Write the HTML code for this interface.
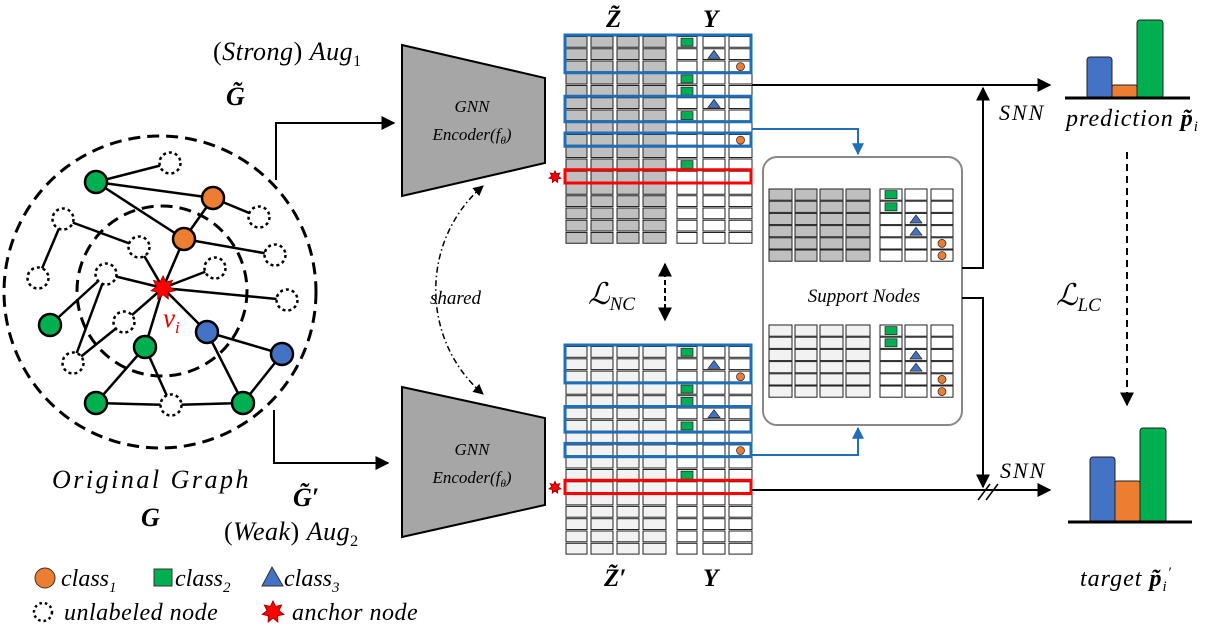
<!DOCTYPE html>
<html><head><meta charset="utf-8"><style>
body{margin:0;background:#fff}
svg{display:block}
text{font-family:"Liberation Serif",serif}
.it{font-style:italic}
</style></head><body>
<svg id="s" width="1215" height="626" viewBox="0 0 1215 626" xmlns="http://www.w3.org/2000/svg">
<defs>
<marker id="ah" viewBox="0 0 10 10" refX="9" refY="5" markerWidth="7" markerHeight="7" orient="auto-start-reverse"><path d="M0,0L10,5L0,10z" fill="#000"/></marker>
<marker id="ab" viewBox="0 0 10 10" refX="9" refY="5" markerWidth="6" markerHeight="6" orient="auto"><path d="M0,0L10,5L0,10z" fill="#1f6fb8"/></marker>
</defs>
<g id="graph"></g>
<g id="grids"></g>

<!-- encoders -->
<path d="M402,45L545,78L545,163L402,196Z" fill="#a6a6a6" stroke="#000" stroke-width="2"/>
<path d="M402,387L545,418L545,505L402,537Z" fill="#a6a6a6" stroke="#000" stroke-width="2"/>
<text x="472" y="112" font-size="17" class="it" text-anchor="middle">GNN</text>
<text x="472" y="140" font-size="17" class="it" text-anchor="middle">Encoder(<tspan>f</tspan><tspan font-size="11" dy="4">θ</tspan><tspan dy="-4">)</tspan></text>
<text x="472" y="455" font-size="17" class="it" text-anchor="middle">GNN</text>
<text x="472" y="483" font-size="17" class="it" text-anchor="middle">Encoder(<tspan>f</tspan><tspan font-size="11" dy="4">θ</tspan><tspan dy="-4">)</tspan></text>

<!-- aug arrows -->
<path d="M276,180V123H394" fill="none" stroke="#000" stroke-width="2" marker-end="url(#ah)"/>
<path d="M274,410V463H388" fill="none" stroke="#000" stroke-width="2" marker-end="url(#ah)"/>
<text x="213" y="60" font-size="26" letter-spacing="0.5">(<tspan class="it">Strong</tspan>) <tspan class="it">Aug</tspan><tspan font-size="16" dy="6">1</tspan></text>
<text x="226" y="105" font-size="26" font-weight="bold" class="it">G̃</text>
<text x="293" y="506" font-size="26" font-weight="bold" class="it">G̃′</text>
<text x="224" y="540" font-size="26" letter-spacing="0.5">(<tspan class="it">Weak</tspan>) <tspan class="it">Aug</tspan><tspan font-size="16" dy="6">2</tspan></text>
<text x="52" y="488" font-size="26" class="it" letter-spacing="2.5">Original Graph</text>
<text x="141" y="526" font-size="26" font-weight="bold" class="it">G</text>

<!-- shared -->
<path d="M483,186C420,240 420,340 483,394" fill="none" stroke="#000" stroke-width="1.5" stroke-dasharray="6,3,1.5,3" marker-start="url(#ah)" marker-end="url(#ah)"/>
<text x="430" y="304" font-size="19" class="it">shared</text>

<!-- L_NC -->
<text x="588" y="304" font-size="30" class="it">ℒ<tspan font-size="19" dy="6">NC</tspan></text>
<path d="M665,264V320" stroke="#000" stroke-width="2" stroke-dasharray="5,3" marker-start="url(#ah)" marker-end="url(#ah)"/>

<!-- labels Z Y -->
<text x="606" y="27" font-size="25" font-weight="bold" class="it">Z̃</text>
<text x="703" y="27" font-size="25" font-weight="bold" class="it">Y</text>
<text x="604" y="586" font-size="25" font-weight="bold" class="it">Z̃′</text>
<text x="703" y="586" font-size="25" font-weight="bold" class="it">Y</text>

<!-- support box -->
<rect x="763" y="157" width="199" height="268" rx="14" fill="#fff" stroke="#888" stroke-width="2"/>
<text x="864" y="302" font-size="19" class="it" text-anchor="middle">Support Nodes</text>
<g id="sup"></g>

<!-- connectors -->
<path d="M752,85H1050" stroke="#000" stroke-width="2" marker-end="url(#ah)"/>
<path d="M752,490H1050" stroke="#000" stroke-width="2" marker-end="url(#ah)"/>
<path d="M978,500L990,484M986,500L998,484" stroke="#000" stroke-width="1.5"/>
<path d="M752,129H858V154" fill="none" stroke="#1f6fb8" stroke-width="2" marker-end="url(#ab)"/>
<path d="M752,455H858V428" fill="none" stroke="#1f6fb8" stroke-width="2" marker-end="url(#ab)"/>
<path d="M962,268H983V88" fill="none" stroke="#000" stroke-width="2" marker-end="url(#ah)"/>
<path d="M962,298H983V487" fill="none" stroke="#000" stroke-width="2" marker-end="url(#ah)"/>
<text x="999" y="120" font-size="22" class="it" letter-spacing="2">SNN</text>
<text x="1000" y="478" font-size="22" class="it" letter-spacing="2">SNN</text>

<!-- bars -->
<rect x="1087" y="57" width="25" height="41" rx="3" fill="#4472c4" stroke="#222"/>
<rect x="1112" y="85" width="25" height="13" rx="2" fill="#ed7d31" stroke="#222"/>
<rect x="1137" y="20" width="26" height="78" rx="3" fill="#00b050" stroke="#222"/>
<path d="M1065,98H1190" stroke="#000" stroke-width="3"/>
<rect x="1090" y="457" width="25" height="65" rx="3" fill="#4472c4" stroke="#222"/>
<rect x="1115" y="481" width="25" height="41" rx="2" fill="#ed7d31" stroke="#222"/>
<rect x="1140" y="428" width="26" height="94" rx="3" fill="#00b050" stroke="#222"/>
<path d="M1068,522H1192" stroke="#000" stroke-width="3"/>
<text x="1066" y="126" font-size="24" class="it" letter-spacing="1">prediction <tspan font-weight="bold">p̃</tspan><tspan font-size="15" dy="5">i</tspan></text>
<text x="1080" y="586" font-size="24" class="it" letter-spacing="1">target <tspan font-weight="bold">p̃</tspan><tspan font-size="15" dy="5">i</tspan><tspan font-size="15" dy="-14">′</tspan></text>
<path d="M1127,152V405" stroke="#000" stroke-width="2" stroke-dasharray="7,5" marker-end="url(#ah)"/>
<text x="1056" y="305" font-size="30" class="it">ℒ<tspan font-size="19" dy="6">LC</tspan></text>

<!-- legend -->
<circle cx="45" cy="578" r="10" fill="#ed7d31" stroke="#333"/>
<text x="61" y="586" font-size="24" class="it">class<tspan font-size="15" dy="6">1</tspan></text>
<rect x="154" y="569" width="18" height="17" fill="#00b050" stroke="#333"/>
<text x="175" y="586" font-size="24" class="it">class<tspan font-size="15" dy="6">2</tspan></text>
<path d="M262,586L272,567L283,586Z" fill="#4472c4" stroke="#333"/>
<text x="284" y="586" font-size="24" class="it">class<tspan font-size="15" dy="6">3</tspan></text>
<circle cx="43" cy="612" r="9" fill="none" stroke="#000" stroke-width="2.5" stroke-dasharray="2.5,3"/>
<text x="64" y="620" font-size="24" class="it" letter-spacing="0.5">unlabeled node</text>
<text x="292" y="620" font-size="24" class="it" letter-spacing="0.5">anchor node</text>
<g id="leg"></g>
</svg>
<script>
const NS="http://www.w3.org/2000/svg";
function el(p,t,a){const e=document.createElementNS(NS,t);for(const k in a)e.setAttribute(k,a[k]);p.appendChild(e);return e;}
function star(p,cx,cy,R){let d="";for(let i=0;i<14;i++){const r=i%2?R*0.55:R;const a=-Math.PI/2+i*Math.PI/7;d+=(i?"L":"M")+(cx+r*Math.cos(a)).toFixed(1)+","+(cy+r*Math.sin(a)).toFixed(1);}el(p,"path",{d:d+"Z",fill:"#f00",stroke:"#a00","stroke-width":1});}
const g=document.getElementById("graph");
el(g,"circle",{cx:160,cy:292,r:156,fill:"none",stroke:"#000","stroke-width":3,"stroke-dasharray":"12,7"});
el(g,"circle",{cx:162,cy:291,r:85,fill:"none",stroke:"#000","stroke-width":3,"stroke-dasharray":"12,7"});
const N={A:[96,182,'g'],B:[213,198,'o'],C:[184,239,'o'],S:[163,288,'s'],U1:[170,163,'u'],U2:[259,217,'u'],U3:[63,219,'u'],U4:[139,247,'u'],U5:[275,255,'u'],U6:[38,278,'u'],U7:[106,274,'u'],U8:[215,268,'u'],U9:[287,300,'u'],D:[50,325,'g'],U10:[124,322,'u'],E:[207,332,'b'],F:[145,347,'g'],G:[282,354,'b'],U11:[73,363,'u'],H:[96,403,'g'],U12:[171,405,'u'],I:[243,403,'g']};
const E=[["A","U1"],["A","B"],["A","C"],["B","U2"],["B","C"],["U3","U6"],["U3","U4"],["C","U5"],["C","S"],["U4","S"],["S","U8"],["S","U9"],["U7","S"],["U7","D"],["U11","U7"],["U11","U10"],["S","U10"],["S","F"],["S","E"],["E","G"],["E","I"],["G","I"],["F","H"],["F","U12"],["H","U12"],["U12","I"]];
E.forEach(([a,b])=>el(g,"line",{x1:N[a][0],y1:N[a][1],x2:N[b][0],y2:N[b][1],stroke:"#000","stroke-width":2.5}));
const col={g:"#00b050",o:"#ed7d31",b:"#4472c4"};
for(const k in N){const [x,y,t]=N[k];
 if(t=='u')el(g,"circle",{cx:x,cy:y,r:10.5,fill:"#fff",stroke:"#000","stroke-width":2.5,"stroke-dasharray":"3,3"});
 else if(t=='s')star(g,x,y,12);
 else el(g,"circle",{cx:x,cy:y,r:11,fill:col[t],stroke:"#000","stroke-width":2.5});}
const vt=el(g,"text",{x:163,y:327,"font-size":27,fill:"#e00",class:"it"});vt.textContent="v";const vs=el(vt,"tspan",{"font-size":17,dy:6});vs.textContent="i";
star(document.getElementById("leg"),273,612,11);
const gr=document.getElementById("grids");
const zc=[[566,21],[591,22],[617,22],[643,23]],yc=[[677,20],[703,22],[729,23]];
function sym(p,t,x,y){ if(t=='g')el(p,"rect",{x:x-6,y:y-4,width:12,height:8,fill:"#00b050",stroke:"#222","stroke-width":.7});
 else if(t=='b')el(p,"path",{d:`M${x-6},${y+4}L${x},${y-4}L${x+6},${y+4}Z`,fill:"#4472c4",stroke:"#222","stroke-width":.7});
 else el(p,"circle",{cx:x,cy:y,r:4,fill:"#ed7d31",stroke:"#222","stroke-width":.7});}
const marks={0:['g',0],1:['b',1],2:['o',2],3:['g',0],4:['g',0],5:['b',1],6:['g',0],8:['o',2],10:['g',0]};
function matrix(y0,h,fill){
 for(let r=0;r<17;r++){const y=y0+r*h;
  zc.forEach(([x,w])=>el(gr,"rect",{x,y:y+.5,width:w,height:h-1.5,fill,stroke:"#222","stroke-width":1}));
  yc.forEach(([x,w])=>el(gr,"rect",{x,y:y+.5,width:w,height:h-1.5,fill:"#fff",stroke:"#222","stroke-width":1}));
  if(marks[r]){const [t,c]=marks[r];sym(gr,t,yc[c][0]+yc[c][1]/2,y+h/2);}
 }
 const bx=(ra,rb,c)=>el(gr,"rect",{x:565,y:y0+ra*h-1,width:186,height:(rb-ra+1)*h+1,fill:"none",stroke:c,"stroke-width":3});
 bx(0,2,"#1f6fb8");bx(5,6,"#1f6fb8");bx(8,8,"#1f6fb8");bx(11,11,"#f00");
 star(gr,555,y0+11.5*h,6);
}
matrix(36,12.25,"#bfbfbf");
matrix(346,12.3,"#f2f2f2");
const sp=document.getElementById("sup");
const sz=[[769,23],[795,22],[820,23],[846,24]],sy=[[880,22],[905,22],[931,22]];
const sm=[['g',0],['g',0],['b',1],['b',1],['o',2],['o',2]];
function sg(y0,fill){for(let r=0;r<6;r++){const y=y0+r*12.2;
 sz.forEach(([x,w])=>el(sp,"rect",{x,y,width:w,height:11.2,fill,stroke:"#222","stroke-width":1}));
 sy.forEach(([x,w])=>el(sp,"rect",{x,y,width:w,height:11.2,fill:"#fff",stroke:"#222","stroke-width":1}));
 const [t,c]=sm[r];sym(sp,t,sy[c][0]+sy[c][1]/2,y+5.6);}}
sg(189,"#bfbfbf");sg(325,"#f2f2f2");
</script>
</body></html>
